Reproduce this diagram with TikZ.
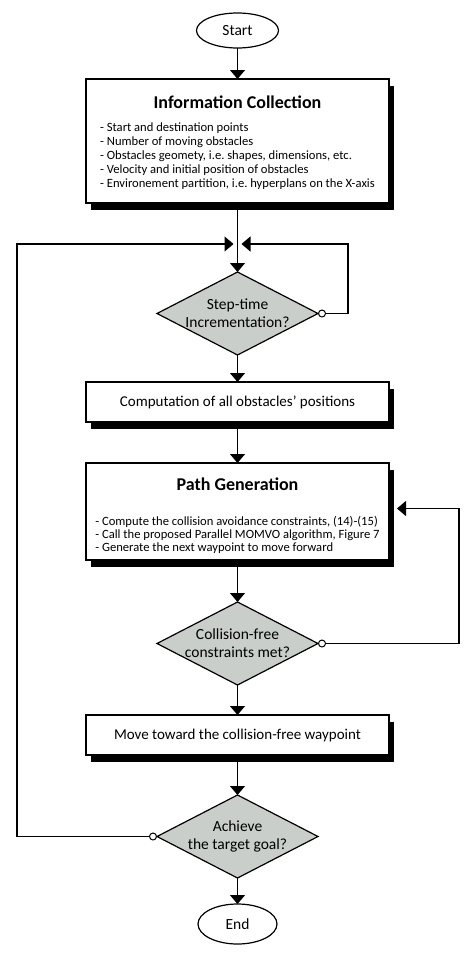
\documentclass[tikz,border=0pt]{standalone}
\usepackage{fontspec}
\setmainfont{Carlito}
\usetikzlibrary{positioning, arrows.meta, shapes.geometric, shadows}

\definecolor{decgray}{RGB}{201,206,202}
\newcommand{\boxtitle}[2]{\multicolumn{1}{@{}c@{}}{\rule{0pt}{#1}\fontsize{18}{21}\selectfont\bfseries #2}}
\frenchspacing

\begin{document}
\begin{tikzpicture}[x=1pt, y=-1pt,
  box/.style={draw, line width=1.2pt, fill=white, outer sep=0pt, minimum width=303pt,
              font=\fontsize{15}{17}\selectfont,
              drop shadow={shadow xshift=5pt, shadow yshift=-7pt, fill=black, opacity=1}},
  listbox/.style={box, align=left, inner xsep=0pt, inner ysep=0pt, font=\fontsize{12.6}{14.2}\selectfont},
  decision/.style={diamond, aspect=1.94, draw, line width=1.2pt, fill=decgray, outer sep=0pt,
                   inner sep=-4pt, minimum width=161pt, minimum height=83pt, align=center,
                   font=\fontsize{15.5}{18}\selectfont},
  terminal/.style={ellipse, draw, line width=1.2pt, outer sep=0pt, inner sep=0pt,
                   font=\fontsize{15.5}{17}\selectfont},
  arr/.style={line width=1.2pt, -{Triangle[width=15pt, length=9pt]}},
  loopback/.style={line width=1.2pt, {Circle[open, length=8pt, width=8pt, line width=1pt]}-{Triangle[width=15pt, length=9pt]}}]
  \useasboundingbox (0,0) rectangle (474,953);

  \node[terminal, minimum width=82pt, minimum height=35pt] (start) at (237.5,30.5) {Start};
  \node[listbox, minimum height=124pt, below=31pt of start] (info) {%
    \begin{tabular}{@{}l@{}}
    \boxtitle{19pt}{Information Collection}\\[8pt]
    - Start and destination points\\
    - Number of moving obstacles\\
    - Obstacles geomety, i.e. shapes, dimensions, etc.\\
    - Velocity and initial position of obstacles\\
    - Environement partition, i.e. hyperplans on the X-axis
    \end{tabular}};
  \coordinate[below=41pt of info] (merge);
  \coordinate[left=4pt of merge] (mergeL);
  \coordinate[right=4pt of merge] (mergeR);
  \node[decision, below=69pt of info] (step) {Step-time\\Incrementation?};
  \node[box, minimum height=40pt, below=27pt of step] (comp) {Computation of all obstacles’ positions};
  \node[listbox, minimum height=97pt, below=41pt of comp] (pathgen) {%
    \begin{tabular}{@{}l@{}}
    \boxtitle{24pt}{Path Generation}\\[20pt]
    - Compute the collision avoidance constraints, (14)-(15)\\[-0.9pt]
    - Call the proposed Parallel MOMVO algorithm, Figure 7\\[-0.9pt]
    - Generate the next waypoint to move forward
    \end{tabular}};
  \node[decision, below=42pt of pathgen] (coll) {Collision-free\\constraints met?};
  \node[box, minimum height=40pt, below=30pt of coll] (move) {Move toward the collision-free waypoint};
  \node[decision, below=40pt of move] (goal) {Achieve\\the target goal?};
  \node[terminal, minimum width=79pt, minimum height=40pt, below=26pt of goal] (end) {End};

  \draw[arr] (start) -- (info);
  \draw[arr] (info) -- (step);
  \draw[arr] (step) -- (comp);
  \draw[arr] (comp) -- (pathgen);
  \draw[arr] (pathgen) -- (coll);
  \draw[arr] (coll) -- (move);
  \draw[arr] (move) -- (goal);
  \draw[arr] (goal) -- (end);

  % loops back to the merge point and to path generation
  \draw[loopback] (step.east) -- ++(30,0) |- (mergeR);
  \draw[loopback] (goal.west) -- ++(-140,0) |- (mergeL);
  \draw[loopback] (coll.east) -- ++(141,0) |- ([xshift=8pt, yshift=3pt]pathgen.east);
\end{tikzpicture}
\end{document}
